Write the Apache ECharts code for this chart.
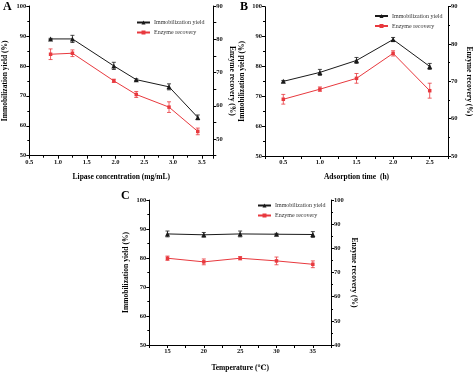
<!DOCTYPE html>
<html><head><meta charset="utf-8">
<script src="https://cdn.jsdelivr.net/npm/echarts@6/dist/echarts.min.js"></script>
<style>html,body{margin:0;padding:0;background:#fff}#c{width:474px;height:373px}</style>
</head><body><div id="c"></div>
<script>
// Panel A
const xA = [0.87, 1.25, 1.97, 2.36, 2.93, 3.43];
const yieldA = [89.0, 89.0, 80.0, 75.4, 73.0, 62.8];
const yieldAErr = [0.2, 1.2, 1.2, 0.3, 1.0, 0.8];
const recA = [75.5, 75.8, 67.5, 63.4, 59.6, 52.3];
const recAErr = [1.6, 1.0, 0.5, 0.9, 1.6, 1.0];
// Panel B
const xB = [0.5, 1.0, 1.5, 2.0, 2.5];
const yieldB = [75.0, 78.0, 82.0, 89.0, 80.0];
const yieldBErr = [0.3, 1.0, 1.0, 0.7, 1.0];
const recB = [65.2, 67.9, 70.8, 77.5, 67.5];
const recBErr = [1.3, 0.6, 1.3, 0.7, 2.0];
// Panel C
const xC = [15, 20, 25, 30, 35];
const yieldC = [88.3, 88.0, 88.3, 88.2, 88.1];
const yieldCErr = [1.0, 0.8, 1.0, 0.3, 1.0];
const recC = [75.9, 74.4, 75.9, 74.8, 73.4];
const recCErr = [0.9, 1.2, 0.7, 1.6, 1.4];

const NAME_Y = 'Immobilization yield (%)';
const NAME_Y2 = 'Enzyme recovery (%)';
const S1 = 'Immobilization yield';
const S2 = 'Enzyme recovery';
const BLACK = '#1a1a1a';
const RED = '#e8393e';
const FONT = '"Liberation Serif", "DejaVu Serif", serif';

const chart = echarts.init(document.getElementById('c'), null, {renderer: 'canvas'});

function pairs(xs, ys) { return xs.map((x, i) => [x, ys[i]]); }
function errs(xs, ys, es) { return xs.map((x, i) => [x, ys[i] - es[i], ys[i] + es[i]]); }
function multipleOf(v, step) { return Math.abs(v / step - Math.round(v / step)) < 1e-6; }

const axisLineStyle = {show: true, lineStyle: {color: '#000', width: 1}};
const labelBase = {color: '#111', fontFamily: FONT, fontSize: 6.5, fontWeight: 'bold', margin: 3};
const nameStyle = {color: '#000', fontFamily: FONT, fontSize: 7.5, fontWeight: 'bold'};

function xAxis(grid, min, max, interval, step, name, digits, minor, gap) {
  return {
    type: 'value', gridIndex: grid, min: min, max: max, interval: interval,
    name: name, nameLocation: 'middle', nameGap: gap, nameTextStyle: nameStyle,
    axisLine: axisLineStyle, splitLine: {show: false},
    axisTick: {show: true, inside: false, length: 3, lineStyle: {color: '#000'}},
    minorTick: {show: !!minor, splitNumber: 2, length: 2, lineStyle: {color: '#000'}},
    axisLabel: Object.assign({}, labelBase, {
      formatter: v => (multipleOf(v, step) && v < max - 1e-9 + (multipleOf(max, step) ? 1e-6 : 0)) ? v.toFixed(digits) : ''
    })
  };
}
function yAxis(grid, pos, min, max, interval, step, name, minor, rot, gap) {
  return {
    type: 'value', gridIndex: grid, position: pos, min: min, max: max, interval: interval,
    name: name, nameLocation: 'middle', nameGap: gap, nameRotate: rot, nameTextStyle: nameStyle,
    axisLine: axisLineStyle, splitLine: {show: false},
    axisTick: {show: true, inside: false, length: 3, lineStyle: {color: '#000'}},
    minorTick: {show: !!minor, splitNumber: 2, length: 2, lineStyle: {color: '#000'}},
    axisLabel: Object.assign({}, labelBase, {
      formatter: v => multipleOf(v, step) ? String(Math.round(v)) : ''
    })
  };
}

function lineSeries(name, xi, yi, data, color, symbol, size) {
  return {
    type: 'line', name: name, xAxisIndex: xi, yAxisIndex: yi, data: data,
    symbol: symbol, symbolSize: size, z: 3,
    lineStyle: {color: color, width: 1}, itemStyle: {color: color},
    emphasis: {disabled: true}, animation: false
  };
}
function errSeries(xi, yi, data, color) {
  return {
    type: 'custom', xAxisIndex: xi, yAxisIndex: yi, data: data, z: 2, silent: true,
    encode: {x: 0, y: [1, 2]}, animation: false,
    renderItem: function (params, api) {
      const x = api.value(0), lo = api.value(1), hi = api.value(2);
      const p1 = api.coord([x, hi]), p2 = api.coord([x, lo]);
      const w = 2;
      const st = {stroke: color, lineWidth: 0.8};
      return {type: 'group', children: [
        {type: 'line', shape: {x1: p1[0], y1: p1[1], x2: p2[0], y2: p2[1]}, style: st},
        {type: 'line', shape: {x1: p1[0] - w, y1: p1[1], x2: p1[0] + w, y2: p1[1]}, style: st},
        {type: 'line', shape: {x1: p2[0] - w, y1: p2[1], x2: p2[0] + w, y2: p2[1]}, style: st}
      ]};
    }
  };
}
function legend(left, top) {
  return {
    orient: 'vertical', left: left, top: top, itemWidth: 13, itemHeight: 5, itemGap: 4, padding: 0,
    data: [S1, S2], selectedMode: false,
    textStyle: {fontFamily: FONT, fontSize: 6, color: '#333', padding: [0, 0, 0, -1]}
  };
}
const letterStyle = {fontFamily: FONT, fontSize: 12, fontWeight: 'bold', color: '#000'};

const option = {
  animation: false,
  backgroundColor: '#fff',
  title: [
    {text: 'A', left: 3, top: 1, padding: 0, textStyle: letterStyle},
    {text: 'B', left: 240, top: 1, padding: 0, textStyle: letterStyle},
    {text: 'C', left: 121, top: 190, padding: 0, textStyle: letterStyle}
  ],
  legend: [legend(136, 19.5), legend(374, 13), legend(257, 202.5)],
  grid: [
    {left: 29.3, right: 260.7, top: 6, bottom: 217.3},
    {left: 265, right: 24, top: 6.7, bottom: 217},
    {left: 149.3, right: 143, top: 200, bottom: 26.3}
  ],
  xAxis: [
    xAxis(0, 0.5, 3.7, 0.5, 0.5, 'Lipase concentration (mg/mL)', 1, true, 17),
    xAxis(1, 0.25, 2.75, 0.25, 0.5, 'Adsorption time  (h)', 1, false, 17),
    xAxis(2, 12.5, 37.5, 2.5, 5, 'Temperature (\u2103)', 0, false, 19)
  ],
  yAxis: [
    yAxis(0, 'left', 50, 100, 10, 10, NAME_Y, true, 90, 20),
    yAxis(0, 'right', 45, 90, 5, 10, NAME_Y2, false, -90, 15),
    yAxis(1, 'left', 50, 100, 10, 10, NAME_Y, true, 90, 19),
    yAxis(1, 'right', 50, 90, 10, 10, NAME_Y2, true, -90, 17),
    yAxis(2, 'left', 50, 100, 10, 10, NAME_Y, true, 90, 19),
    yAxis(2, 'right', 40, 100, 10, 10, NAME_Y2, true, -90, 19)
  ],
  series: [
    errSeries(0, 0, errs(xA, yieldA, yieldAErr), BLACK),
    errSeries(0, 1, errs(xA, recA, recAErr), RED),
    lineSeries(S1, 0, 0, pairs(xA, yieldA), BLACK, 'triangle', 5),
    lineSeries(S2, 0, 1, pairs(xA, recA), RED, 'rect', 3.5),
    errSeries(1, 2, errs(xB, yieldB, yieldBErr), BLACK),
    errSeries(1, 3, errs(xB, recB, recBErr), RED),
    lineSeries(S1, 1, 2, pairs(xB, yieldB), BLACK, 'triangle', 5),
    lineSeries(S2, 1, 3, pairs(xB, recB), RED, 'rect', 3.5),
    errSeries(2, 4, errs(xC, yieldC, yieldCErr), BLACK),
    errSeries(2, 5, errs(xC, recC, recCErr), RED),
    lineSeries(S1, 2, 4, pairs(xC, yieldC), BLACK, 'triangle', 5),
    lineSeries(S2, 2, 5, pairs(xC, recC), RED, 'rect', 3.5)
  ]
};
chart.setOption(option);
</script></body></html>
